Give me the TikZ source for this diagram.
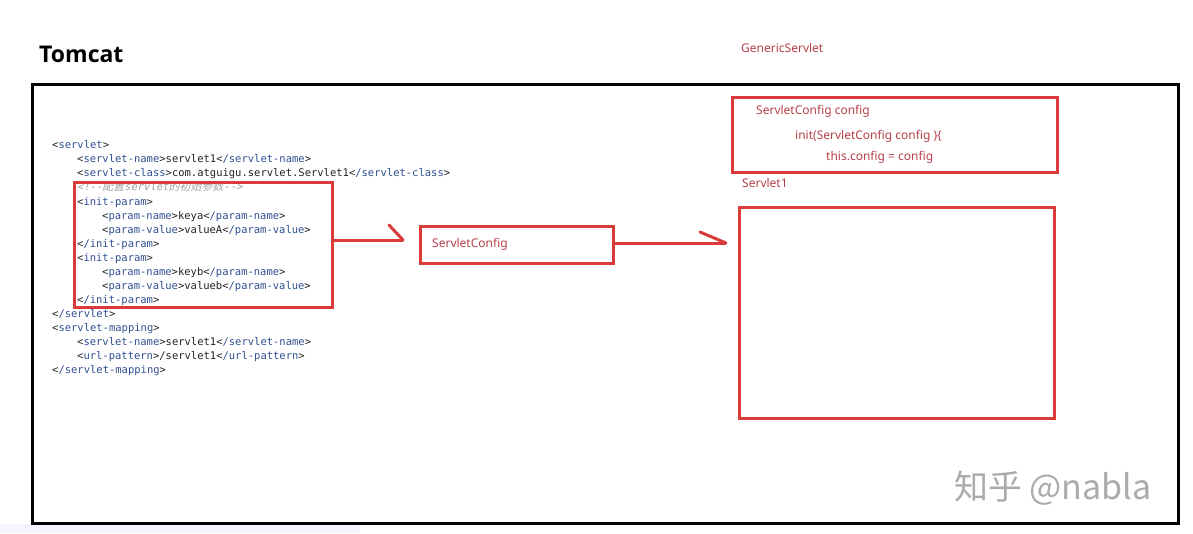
\documentclass[tikz,border=0pt]{standalone}
\usepackage{fontspec}
\usetikzlibrary{arrows.meta,calc}
\setmainfont{Noto Sans}
\newfontfamily\titlefont{Open Sans}
\newfontfamily\codefont{DejaVu Sans Mono}
\newfontfamily\cjk{Noto Sans CJK SC}
\newfontfamily\cjkit[FakeSlant=0.2]{Noto Sans CJK SC}
\newfontfamily\codeit[FakeSlant=0.2]{DejaVu Sans Mono}
\definecolor{redbox}{HTML}{D93A3A}
\definecolor{lbl}{HTML}{B8404A}
\definecolor{tagc}{HTML}{2F4F8F}
\definecolor{txtc}{HTML}{222222}
\definecolor{cmt}{HTML}{A0A0A0}
\newcommand\ot[1]{\textcolor{txtc}{<}\textcolor{tagc}{#1}\textcolor{txtc}{>}}
\newcommand\ct[1]{\textcolor{txtc}{<}\textcolor{tagc}{/#1}\textcolor{txtc}{>}}
\tikzset{
  rbox/.style={draw=redbox, line width=3pt, inner sep=0pt, anchor=north west},
  code/.style={anchor=base west, inner sep=0pt, font=\codefont\fontsize{10.5}{12}\selectfont, text=txtc},
  lab/.style={anchor=base west, inner sep=0pt, font=\fontsize{12}{14}\selectfont, text=lbl},
  conn/.style={draw=redbox, line width=3pt}
}
\begin{document}
\begin{tikzpicture}[x=1pt,y=-1pt]
\useasboundingbox (0,0) rectangle (1193,533);
\fill[white] (0,0) rectangle (1193,533);
\fill[blue!4] (0,524) rectangle (360,533);
% title
\node[anchor=base west, inner sep=0pt, font=\titlefont\bfseries\fontsize{23}{27}\selectfont] (title) at (39,62) {Tomcat};
\node[lab] (gs) at (741,52) {GenericServlet};
% frame
\node[draw=black, line width=3pt, inner sep=0pt, anchor=north west, minimum width=1146pt, minimum height=439pt] (frame) at (31,83) {};
% code
\node[code] (l1) at (52,148) {\ot{servlet}};
\node[code] (l2) at (77,162) {\ot{servlet-name}servlet1\ct{servlet-name}};
\node[code] (l3) at (77,176) {\ot{servlet-class}com.atguigu.servlet.Servlet1\ct{servlet-class}};
\node[code, text=cmt] (l4) at (77,190) {\codeit<!-{}-\cjkit\fontsize{11}{12}\selectfont 配置\codeit\fontsize{10.5}{12}\selectfont servlet\cjkit\fontsize{11}{12}\selectfont 的初始参数\codeit\fontsize{10.5}{12}\selectfont -{}->};
\node[code] (l5) at (77,205) {\ot{init-param}};
\node[code] (l6) at (102,219) {\ot{param-name}keya\ct{param-name}};
\node[code] (l7) at (102,233) {\ot{param-value}valueA\ct{param-value}};
\node[code] (l8) at (77,247) {\ct{init-param}};
\node[code] (l9) at (77,261) {\ot{init-param}};
\node[code] (l10) at (102,275) {\ot{param-name}keyb\ct{param-name}};
\node[code] (l11) at (102,289) {\ot{param-value}valueb\ct{param-value}};
\node[code] (l12) at (77,303) {\ct{init-param}};
\node[code] (l13) at (52,317) {\ct{servlet}};
\node[code] (l14) at (52,331) {\ot{servlet-mapping}};
\node[code] (l15) at (77,345) {\ot{servlet-name}servlet1\ct{servlet-name}};
\node[code] (l16) at (77,359) {\ot{url-pattern}/servlet1\ct{url-pattern}};
\node[code] (l17) at (52,373) {\ct{servlet-mapping}};
% red boxes
\node[rbox, minimum width=258pt, minimum height=125pt] (codebox) at (73,181) {};
\node[rbox, minimum width=193pt, minimum height=37pt] (cfg) at (419,225) {};
\node[lab] (cfgt) at (432,247) {ServletConfig};
\node[rbox, minimum width=325pt, minimum height=75pt] (gen) at (731,96) {};
\node[lab] (g1) at (756,114) {ServletConfig config};
\node[lab] (g2) at (795,139) {init(ServletConfig config )\{};
\node[lab] (g3) at (826,160) {this.config = config};
\node[lab] (s1t) at (742,187) {Servlet1};
\node[rbox, minimum width=315pt, minimum height=211pt] (s1) at (738,206) {};
% connectors
\coordinate (a1) at (403,240);
\coordinate (a2) at (726,243);
\draw[conn] (codebox.east |- a1) -- (a1);
\draw[conn, line cap=round] (a1) -- ++(-14,-15);
\draw[conn] (cfg.east |- a2) -- (a2);
\draw[conn, line cap=round] (a2) -- ++(-26,-11);
% watermark
\node[anchor=base west, inner sep=0pt, text=black!33, font=\cjk\fontsize{34}{38}\selectfont] (wm) at (954,499) {知乎 @nabla};
\end{tikzpicture}
\end{document}
